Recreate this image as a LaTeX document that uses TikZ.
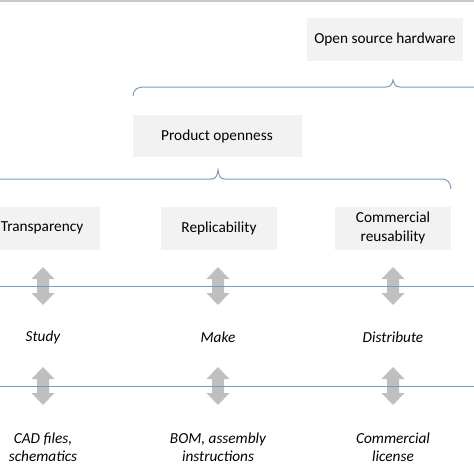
\documentclass[tikz,border=0pt]{standalone}
\usepackage{fontspec}
\setmainfont{Carlito}
\definecolor{boxgray}{RGB}{242,242,242}
\definecolor{arrowgray}{RGB}{191,191,191}
\definecolor{linegray}{RGB}{126,152,186}
\definecolor{bandgray}{RGB}{200,200,200}
\tikzset{
  greybox/.style={fill=boxgray, minimum width=116pt, minimum height=43pt, align=center, font=\fontsize{15.3}{18.5}\selectfont},
  itext/.style={align=center, font=\fontsize{15.3}{18.5}\selectfont\itshape},
  updown/.pic={\fill[arrowgray] (0,-19) -- (11.5,-7) -- (6,-7) -- (6,7) -- (11.5,7) -- (0,19)
    -- (-11.5,7) -- (-6,7) -- (-6,-7) -- (-11.5,-7) -- cycle;},
  level/.style={linegray, line width=1pt},
  brace/.style={linegray, line width=1pt}
}
\begin{document}
\begin{tikzpicture}[x=1pt, y=-1pt]
\useasboundingbox (0,0) rectangle (474,474);
\clip (0,0) rectangle (474,474);
\fill[bandgray] (0,0) rectangle (474,2);
\node[greybox, minimum width=156pt] (osh) at (385,39){Open source hardware};
\node[greybox, minimum width=169pt, minimum height=42pt] (po) at (217,136){Product openness};
\node[greybox] (trans) at (42,228){Transparency};
\node[greybox] (repl) at (219,228){Replicability};
\node[greybox] (comm) at (393,228){Commercial\\reusability};
\node[itext] (study) at (43,337){Study};
\node[itext] (make) at (218,337){Make};
\node[itext] (dist) at (393,337){Distribute};
\node[itext] (cad) at (43,447){CAD files,\\schematics};
\node[itext] (bom) at (218,447){BOM, assembly\\instructions};
\node[itext] (lic) at (393,447){Commercial\\license};
% arrows between the levels
\pic (a1) at (43,286) {updown};
\pic (a2) at (218,286) {updown};
\pic (a3) at (393,286) {updown};
\pic (b1) at (43,386) {updown};
\pic (b2) at (218,386) {updown};
\pic (b3) at (393,386) {updown};
\draw[level] (0,286) -- (474,286);
\draw[level] (0,386) -- (474,386);
% braces
\draw[brace] (133,96) .. controls (134,89) and (137,87) .. (145,87) -- (386,87)
  .. controls (391,87) and (392,84) .. (393,80) .. controls (394,84) and (395,87) .. (400,87) -- (480,87);
\draw[brace] (-10,179) -- (211,179) .. controls (216,179) and (217,176) .. (218,170)
  .. controls (219,176) and (220,179) .. (225,179) -- (441,179) .. controls (448,179) and (450,182) .. (451,189);
\end{tikzpicture}
\end{document}
